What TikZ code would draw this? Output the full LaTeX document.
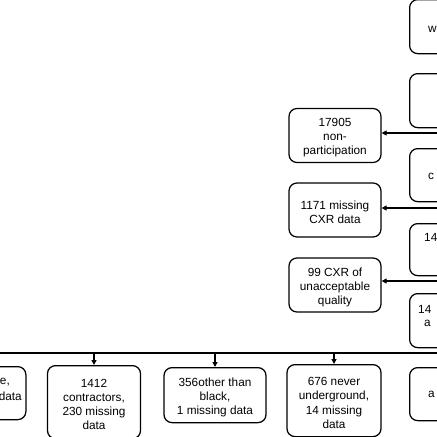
\documentclass[tikz,border=0pt]{standalone}
\usepackage{fontspec}
\setmainfont{Liberation Sans}
\usetikzlibrary{arrows.meta}
\newcommand{\tpad}{\rule{0pt}{13pt}}
\begin{document}
\begin{tikzpicture}[x=1pt,y=-1pt,
  box/.style={draw, rounded corners=8pt, line width=1.25pt, align=center, inner sep=0pt,
    font=\fontsize{11.8}{14.2}\selectfont},
  frag/.style={inner sep=0pt, font=\fontsize{11.8}{14.2}\selectfont},
  arr/.style={line width=1.25pt, -{Triangle[length=5pt,width=5pt]}},
  ln/.style={line width=1.25pt}]
\useasboundingbox (0,0) rectangle (437,437);
\clip (0,0) rectangle (437,437);
% left column
\node[box, minimum width=92pt, minimum height=54pt] (n17905) at (335,135.5) {\tpad 17905\\non-\\participation};
\node[box, minimum width=92pt, minimum height=54pt] (n1171) at (335,210) {\tpad 1171 missing\\CXR data};
\node[box, minimum width=92pt, minimum height=54pt] (n99) at (335,285) {\tpad 99 CXR of\\unacceptable\\quality};
% right column (cut off)
\node[box, minimum width=92pt, minimum height=54pt, anchor=north west] (r1) at (409,-1) {};
\node[box, minimum width=92pt, minimum height=54pt, anchor=north west] (r2) at (409,73) {};
\node[box, minimum width=92pt, minimum height=53pt, anchor=north west] (r3) at (409,148) {};
\node[box, minimum width=92pt, minimum height=52pt, anchor=north west] (r4) at (409,223) {};
\node[box, minimum width=92pt, minimum height=54pt, anchor=north west] (r5) at (409,293) {};
\node[frag, anchor=west] (r1t) at (428,29) {w};
\node[frag, anchor=west] (r3t) at (428,176) {c};
\node[frag, anchor=west] (r4t) at (424,237) {14};
\node[frag, anchor=west] (r5t) at (418,309) {14};
\node[frag, anchor=west] (r5u) at (424,323) {a};
% arrows from spine
\coordinate (s1) at (460,133);
\coordinate (s2) at (460,208);
\coordinate (s3) at (460,281);
\draw[arr] (s1) -- (s1 -| n17905.east);
\draw[arr] (s2) -- (s2 -| n1171.east);
\draw[arr] (s3) -- (s3 -| n99.east);
% bottom bus
\coordinate (busL) at (-10,353);
\coordinate (busR) at (460,353);
\draw[ln] (busL) -- (busR);
% bottom boxes
\node[box, minimum width=92pt, minimum height=53pt, anchor=north east] (bA) at (26.5,366) {};
\node[frag, anchor=east] (bAt1) at (10,382) {e,};
\node[frag, anchor=east] (bAt2) at (22,396) {data};
\node[box, minimum width=93pt, minimum height=73pt, anchor=north] (bB) at (94,365) {\tpad 1412\\contractors,\\230 missing\\data};
\node[box, minimum width=102pt, minimum height=55pt, anchor=north] (bC) at (215,367) {\tpad 356other than\\black,\\1 missing data};
\node[box, minimum width=94pt, minimum height=72pt, anchor=north] (bD) at (334,364) {\tpad 676 never\\underground,\\14 missing\\data};
\node[box, minimum width=92pt, minimum height=53pt, anchor=north west] (bE) at (409,367) {};
\node[frag, anchor=west] (bEt) at (428,394) {a};
\draw[arr] (bB.north |- busL) -- (bB.north);
\draw[arr] (bC.north |- busL) -- (bC.north);
\draw[arr] (bD.north |- busL) -- (bD.north);
\end{tikzpicture}
\end{document}
